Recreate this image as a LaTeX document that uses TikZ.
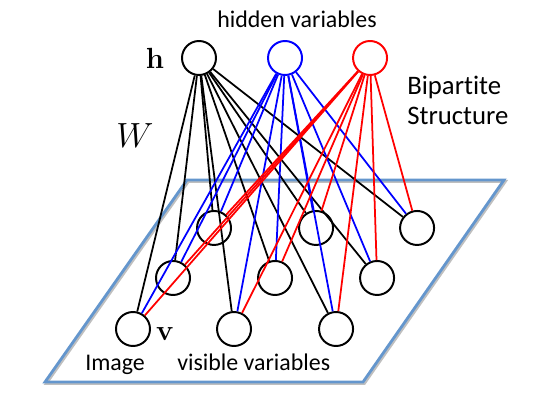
\documentclass[tikz,border=0pt]{standalone}
\usepackage[no-math]{fontspec}
\setmainfont{Carlito}[Ligatures=NoCommon]
\usetikzlibrary{positioning}

\definecolor{planeblue}{RGB}{100,150,205}

\tikzset{
    unit/.style={circle, draw, line width=1.4pt, minimum size=0.85cm, inner sep=0pt},
    link/.style={line width=1.25pt},
    caption/.style={font=\fontsize{17}{20}\selectfont, inner sep=0pt},
    mathlbl/.style={font=\fontsize{20}{24}\selectfont, inner sep=0pt},
}

\begin{document}
\begin{tikzpicture}[x=0.025cm, y=-0.025cm, on grid]
    \useasboundingbox (0,0) rectangle (537,405);
    % image plane
    \draw[black!25, line width=2pt, line join=miter, xshift=1pt, yshift=-1pt]
        (187,180) -- (504,180) -- (363,382) -- (45,382) -- cycle;
    \draw[planeblue, line width=2pt, line join=miter]
        (187,180) -- (504,180) -- (363,382) -- (45,382) -- cycle;
    % hidden units
    \node[unit] (h1) at (199,58) {};
    \node[unit, blue, right=2.15cm of h1] (h2) {};
    \node[unit, red, right=2.125cm of h2] (h3) {};
    % visible units
    \node[unit] (v1) at (133,329) {};
    \node[unit, right=2.525cm of v1] (v2) {};
    \node[unit, right=2.55cm of v2] (v3) {};
    \node[unit, above right=1.275cm and 1cm of v1] (v4) {};
    \node[unit, right=2.55cm of v4] (v5) {};
    \node[unit, right=2.55cm of v5] (v6) {};
    \node[unit, above right=1.25cm and 1.025cm of v4] (v7) {};
    \node[unit, right=2.55cm of v7] (v8) {};
    \node[unit, right=2.525cm of v8] (v9) {};
    % weights
    \foreach \i in {1,...,9} \draw[link] (h1) -- (v\i);
    \foreach \i in {1,...,9} \draw[link, blue] (h2) -- (v\i);
    \foreach \i in {1,...,9} \draw[link, red] (h3) -- (v\i);
    % labels
    \node[mathlbl, left=1.1cm of h1] (hlab) {$\mathbf{h}$};
    \node[mathlbl, below right=0.12cm and 0.8cm of v1] (vlab) {$\mathbf{v}$};
    \node[font=\fontsize{23}{26}\selectfont, inner sep=0pt, anchor=base] (wlab) at (135,148) {$W$};
    \node[caption, anchor=base] (hidtxt) at (297,28) {hidden variables};
    \node[caption, anchor=base west] (imgtxt) at (85,370) {Image};
    \node[caption, anchor=base west] (vistxt) at (177,370) {visible variables};
    \node[font=\fontsize{19}{21.5}\selectfont, inner sep=0pt, align=left, anchor=base west]
        (bitxt) at (407,125) {Bipartite\\Structure};
\end{tikzpicture}
\end{document}
